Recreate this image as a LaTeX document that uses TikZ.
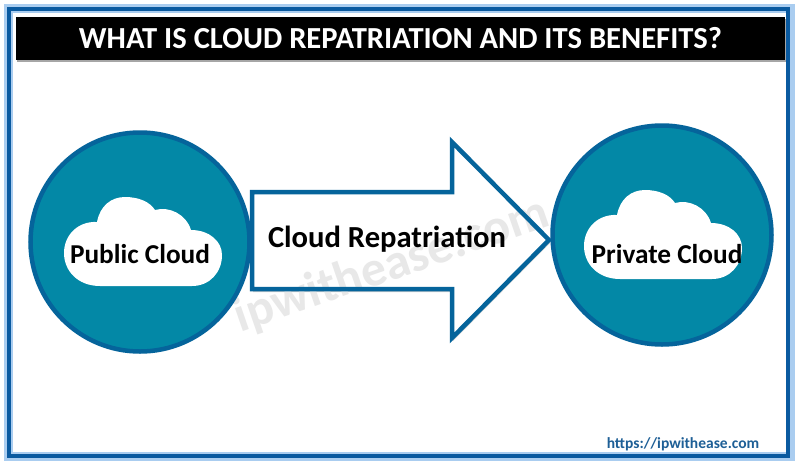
\documentclass[tikz,border=0pt]{standalone}
\usepackage{fontspec}
\setmainfont{Carlito}
\definecolor{frameblue}{RGB}{10,90,160}
\definecolor{halo}{RGB}{170,205,240}
\definecolor{teal1}{RGB}{3,136,166}
\definecolor{ringblue}{RGB}{5,100,155}
\definecolor{urlblue}{RGB}{30,95,150}
\tikzset{
  x=1pt,y=-1pt,
  disc/.style={circle,draw=ringblue,line width=4.5pt,fill=teal1,minimum size=219pt,inner sep=0pt},
  label/.style={font=\bfseries\fontsize{27.3}{30}\selectfont,text=black,inner sep=0pt},
  cloudshape/.style={fill=white,draw=none},
  pics/cloudpic/.style={code={
    \fill[cloudshape] (36,89) .. controls (14,89) and (0,74) .. (0,56)
      .. controls (0,38) and (14,24) .. (33,25)
      .. controls (36,9) and (47,0) .. (61,0)
      .. controls (75,0) and (86,5) .. (91,13)
      .. controls (105,9) and (122,17) .. (127,33)
      .. controls (145,33) and (158,44) .. (158,58)
      .. controls (158,75) and (146,89) .. (128,89) -- cycle;
  }}
}
\begin{document}
\begin{tikzpicture}
\useasboundingbox (0,0) rectangle (800,464);
\fill[white] (0,0) rectangle (800,464);
\draw[halo,line width=9pt] (8.5,8.5) rectangle (790,456);
\draw[frameblue,line width=4.5pt] (9,9) rectangle (788,456);
% title bar
\fill[black!35] (17,19) rectangle (786,62);
\node[fill=black,text=white,minimum width=769pt,minimum height=43pt,inner sep=0pt,font=\bfseries\fontsize{30.6}{32}\selectfont] (title) at (400.5,38.5) {WHAT IS CLOUD REPATRIATION AND ITS BENEFITS?};
% arrow
\coordinate (a1) at (252,192);
\coordinate (a2) at (452,192);
\coordinate (a3) at (452,142);
\coordinate (a4) at (549,240);
\coordinate (a5) at (452,338);
\coordinate (a6) at (452,289);
\coordinate (a7) at (252,289);
\fill[black!18] ([shift={(1,3)}]a1) -- ([shift={(1,3)}]a2) -- ([shift={(1,3)}]a3) -- ([shift={(1,3)}]a4) -- ([shift={(1,3)}]a5) -- ([shift={(1,3)}]a6) -- ([shift={(1,3)}]a7) -- cycle;
\fill[white] (a1) -- (a2) -- (a3) -- (a4) -- (a5) -- (a6) -- (a7) -- cycle;
% watermark
\node[rotate=19,text=black!9,font=\bfseries\fontsize{50}{50}\selectfont,inner sep=0pt] (wm) at (392,266) {ipwithease.com};
% discs
\node[disc] (pub) at (140,242) {};
\node[disc] (priv) at (662,235) {};
\draw[ringblue,line width=4.5pt,miter limit=4] (a1) -- (a2) -- (a3) -- (a4) -- (a5) -- (a6) -- (a7) -- cycle;
\pic at (64,197) {cloudpic};
\pic at (584,190) {cloudpic};
\node[label] (publabel) at (140,254) {Public Cloud};
\node[label] (privlabel) at (667,254) {Private Cloud};
\node[label,font=\bfseries\fontsize{30.6}{32}\selectfont] (arrowlabel) at (387,239) {Cloud Repatriation};
\node[text=urlblue,font=\bfseries\fontsize{15.5}{18}\selectfont,inner sep=0pt] (url) at (683,444) {https://ipwithease.com};
\end{tikzpicture}
\end{document}
